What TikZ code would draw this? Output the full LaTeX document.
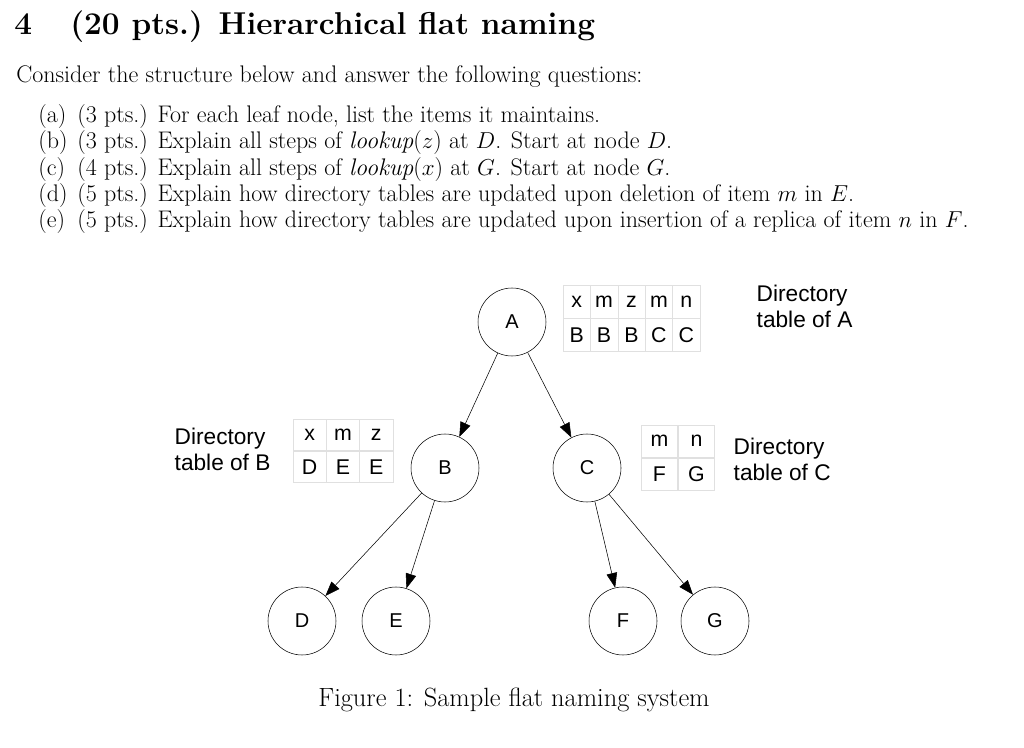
\documentclass[tikz,border=0pt]{standalone}
\usepackage{fontspec}
\newfontfamily\arial{Liberation Sans}
\usetikzlibrary{arrows.meta}
\tikzset{
 circ/.style={draw,circle,minimum size=68pt*0.75,inner sep=0pt,font=\arial\fontsize{15}{15}\selectfont},
 cell/.style={draw=black!12,minimum width=#1,minimum height=25pt,inner sep=0pt,font=\arial\fontsize{16}{16}\selectfont},
 lbl/.style={font=\arial\fontsize{17}{19.5}\selectfont,align=left,anchor=north west},
 txt/.style={anchor=base west,inner sep=0pt,font=\fontsize{18}{20}\selectfont},
 arr/.style={-{Triangle[length=11pt,width=8pt]},thin}
}
\begin{document}
\begin{tikzpicture}[x=0.75pt,y=-0.75pt]
\useasboundingbox (0,0) rectangle (1024,748);
\node[txt,font=\bfseries\fontsize{23.7}{26}\selectfont] (t0) at (14,35) {4};
\node[txt,font=\bfseries\fontsize{23.7}{26}\selectfont] (t1) at (70,35) {(20 pts.) Hierarchical flat naming};
\node[txt] (c0) at (16,83) {Consider the structure below and answer the following questions:};
\foreach \l/\t/\y [count=\i] in {(a)/{(3 pts.) For each leaf node, list the items it maintains.}/123,
 (b)/{(3 pts.) Explain all steps of \textit{lookup}($z$) at $D$. Start at node $D$.}/149,
 (c)/{(4 pts.) Explain all steps of \textit{lookup}($x$) at $G$. Start at node $G$.}/176,
 (d)/{(5 pts.) Explain how directory tables are updated upon deletion of item $m$ in $E$.}/202,
 (e)/{(5 pts.) Explain how directory tables are updated upon insertion of a replica of item $n$ in $F$.}/228}
 {\node[txt] (l\i) at (38,\y) {\l}; \node[txt] (q\i) at (77,\y) {\t};}
\node[circ] (A) at (512,322) {A};
\node[circ] (B) at (445,468) {B};
\node[circ] (C) at (587,468) {C};
\node[circ] (D) at (302,621) {D};
\node[circ] (E) at (396,621) {E};
\node[circ] (F) at (623,621) {F};
\node[circ] (G) at (715,621) {G};
\draw[arr] (A) -- (B); \draw[arr] (A) -- (C);
\draw[arr] (B) -- (D); \draw[arr] (B) -- (E);
\draw[arr] (C) -- (F); \draw[arr] (C) -- (G);
\foreach \a/\b [count=\i] in {x/B,m/B,z/B,m/C,n/C}{
 \node[cell=20.6pt] (ta\i) at (563+27.4*\i-13.7,302) {\a};
 \node[cell=20.6pt] (tb\i) at (563+27.4*\i-13.7,335) {\b};}
\foreach \a/\b [count=\i] in {x/D,m/E,z/E}{
 \node[cell=25pt,minimum height=23pt] (ua\i) at (293+33.3*\i-16.7,435) {\a};
 \node[cell=25pt,minimum height=23pt] (ub\i) at (293+33.3*\i-16.7,467) {\b};}
\foreach \a/\b [count=\i] in {m/F,n/G}{
 \node[cell=27pt,minimum height=24pt] (va\i) at (641+37*\i-18.5,441) {\a};
 \node[cell=27pt,minimum height=24pt] (vb\i) at (641+37*\i-18.5,474) {\b};}
\node[lbl] (la) at (752,280) {Directory\\table of A};
\node[lbl] (lb) at (170,423) {Directory\\table of B};
\node[lbl] (lc) at (729,433) {Directory\\table of C};
\node[font=\fontsize{19.8}{21}\selectfont] (cap) at (514,700) {Figure 1: Sample flat naming system};
\end{tikzpicture}
\end{document}
